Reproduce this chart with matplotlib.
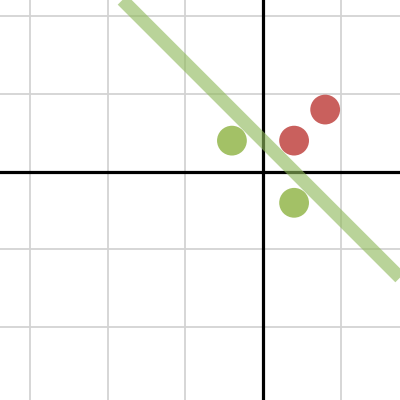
import matplotlib
matplotlib.use("Agg")
import matplotlib.pyplot as plt

# points
green_x = [-0.4, 0.4]
green_y = [0.4, -0.4]
red_x = [0.4, 0.8]
red_y = [0.4, 0.8]

# fitted line y = slope * x + intercept
slope = -1.0
intercept = 0.4

fig = plt.figure(figsize=(4, 4), dpi=100)
ax = fig.add_axes([0, 0, 1, 1])
ax.set_xlim(-3.385, 1.763)
ax.set_ylim(-2.938, 2.21)

for gx in [-3, -2, -1, 1]:
    ax.axvline(gx, color="#d3d3d3", lw=1.3, zorder=0)
for gy in [-2, -1, 1, 2]:
    ax.axhline(gy, color="#d3d3d3", lw=1.3, zorder=0)
ax.axhline(0, color="black", lw=2.3, zorder=1)
ax.axvline(0, color="black", lw=2.3, zorder=1)

ax.axline((0, intercept), slope=slope, color="#8fb95a", alpha=0.62, lw=9.5,
          solid_capstyle="butt", zorder=2)

ax.scatter(green_x, green_y, s=460, color="#a3c166", edgecolors="none", zorder=3)
ax.scatter(red_x, red_y, s=460, color="#c9605d", edgecolors="none", zorder=3)

ax.axis("off")
fig.savefig("out.png", dpi=100)
